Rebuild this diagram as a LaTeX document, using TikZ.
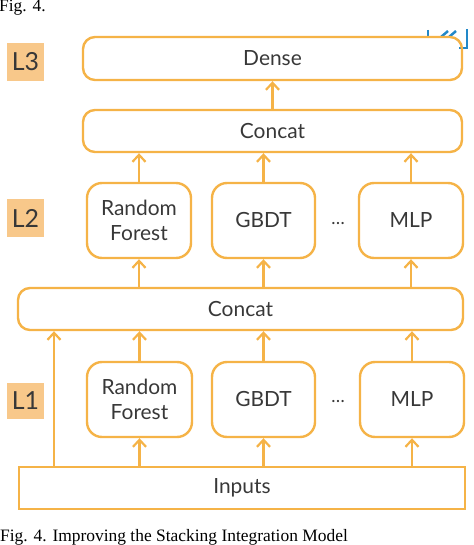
\documentclass[tikz,border=0pt]{standalone}
\usepackage{fontspec}
\setmainfont{Lato}
\newfontfamily\capfont{Liberation Serif}
\usetikzlibrary{arrows.meta}
\definecolor{orng}{HTML}{F5B347}
\definecolor{lfill}{HTML}{F8C88A}
\definecolor{txt}{HTML}{383838}
\definecolor{blu}{HTML}{2288C8}
\tikzset{
  box/.style={draw=orng, line width=2.4bp, rounded corners=12bp, inner sep=0pt, text=txt, font=\fontsize{21}{25}\selectfont, align=center},
  rbox/.style={box, rounded corners=15bp},
  sqbox/.style={box, rounded corners=0pt},
  lab/.style={fill=lfill, inner sep=0pt, text=txt, font=\fontsize{25}{28}\selectfont},
  arr/.style={draw=orng, line width=2.4bp, -{Straight Barb[length=7bp,width=13bp,line width=2.2bp]}},
  dots/.style={text=txt, inner sep=0pt, font=\fontsize{18}{18}\selectfont}
}
\begin{document}
\begin{tikzpicture}[x=1bp,y=-1bp]
\useasboundingbox (0,0) rectangle (474,545);
% caption fragments
\node[anchor=base west, inner sep=0pt, font=\capfont\fontsize{17.5}{18}\selectfont] (figtop) at (-1,12) {Fig. 4.};
\node[anchor=base west, inner sep=0pt, font=\capfont\fontsize{17.5}{18}\selectfont] (caption) at (0,541) {Fig. 4. Improving the Stacking Integration Model};
% blue fragment
\draw[blu, line width=2.5bp] (428,30) -- (428,38);
\draw[blu, line width=2.5bp] (448,31) -- (441,37);
\draw[blu, line width=2.5bp] (456,31) -- (449,37);
\draw[blu, line width=2.5bp] (467,29) -- (467,48) -- (459,48);
% layer labels
\node[lab, minimum width=37bp, minimum height=38bp] (L3) at (25.5,62) {L3};
\node[lab, minimum width=37bp, minimum height=38bp] (L2) at (25.5,218) {L2};
\node[lab, minimum width=37bp, minimum height=36bp] (L1) at (25.5,401) {L1};
% L3
\node[box, minimum width=379bp, minimum height=43bp] (dense) at (272.5,58.5) {Dense};
\node[box, minimum width=379bp, minimum height=42bp] (concat2) at (272.5,131) {Concat};
% L2
\node[rbox, minimum width=104bp, minimum height=75bp] (rf2) at (139,220.5) {Random\\Forest};
\node[rbox, minimum width=103bp, minimum height=75bp] (gb2) at (263.5,220.5) {GBDT};
\node[rbox, minimum width=104bp, minimum height=75bp] (mlp2) at (411,220.5) {MLP};
\node[dots, anchor=base] (d2) at (338,224) {…};
\node[box, minimum width=445bp, minimum height=42bp] (concat1) at (240.5,309) {Concat};
% L1
\node[rbox, minimum width=105bp, minimum height=75bp] (rf1) at (139.5,399.5) {Random\\Forest};
\node[rbox, minimum width=103bp, minimum height=75bp] (gb1) at (263.5,399.5) {GBDT};
\node[rbox, minimum width=104bp, minimum height=75bp] (mlp1) at (412,399.5) {MLP};
\node[dots, anchor=base] (d1) at (338,402) {…};
\node[sqbox, minimum width=446bp, minimum height=42bp] (inputs) at (242,488) {Inputs};
% arrows
\draw[arr] (concat2.north) -- (dense.south);
\foreach \n in {rf2,gb2,mlp2}{
  \draw[arr] (\n.north) -- (\n.north |- concat2.south);
  \draw[arr] (\n.south |- concat1.north) -- (\n.south);
}
\foreach \n in {rf1,gb1,mlp1}{
  \draw[arr] (\n.north) -- (\n.north |- concat1.south);
  \draw[arr] (\n.south |- inputs.north) -- (\n.south);
}
\coordinate (skip) at (54,467);
\draw[arr] (skip) -- (skip |- concat1.south);
\end{tikzpicture}
\end{document}
